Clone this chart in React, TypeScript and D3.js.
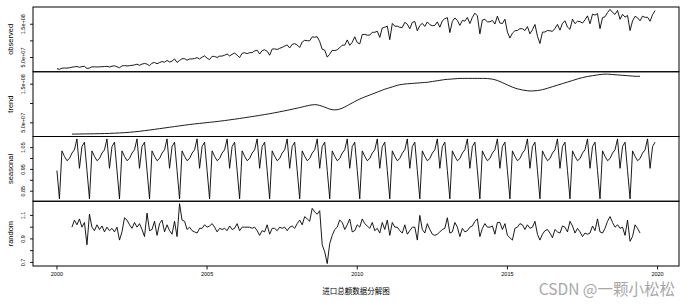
import React from "react";
import * as d3 from "d3";

// ---------- data (values in units of 1e6) ----------
const startYear = 2000;
const unit = 1e6;

const observed: number[] = [
  16.5, 14.5, 18.0, 18.5, 18.2, 19.3, 21.0, 22.2, 23.0, 20.6, 22.8, 23.5,
  17.3, 18.4, 22.2, 21.9, 21.6, 21.9, 22.4, 23.1, 23.6, 21.5, 24.0, 25.1,
  22.3, 19.4, 24.8, 25.7, 24.8, 25.5, 26.6, 27.8, 30.1, 26.7, 30.3, 32.1,
  30.4, 25.5, 33.2, 35.1, 31.3, 34.9, 38.0, 35.9, 41.4, 36.6, 39.3, 45.7,
  35.2, 41.2, 46.5, 46.5, 42.1, 45.6, 45.9, 47.0, 49.9, 45.6, 51.2, 55.0,
  48.1, 43.9, 53.6, 53.2, 50.2, 54.2, 54.4, 56.9, 60.5, 54.7, 59.6, 63.5,
  57.3, 49.9, 62.8, 64.4, 61.7, 64.5, 64.8, 69.9, 72.0, 60.5, 70.9, 73.3,
  68.9, 57.0, 75.5, 76.0, 74.1, 77.7, 80.6, 84.3, 87.9, 78.8, 89.5, 91.6,
  87.8, 80.2, 96.5, 101.8, 100.5, 100.3, 112.2, 111.0, 112.6, 97.8, 75.0, 72.2,
  51.3, 60.0, 71.7, 70.9, 73.2, 79.5, 87.1, 87.1, 102.9, 86.6, 95.9, 112.4,
  94.9, 90.9, 119.2, 119.4, 117.2, 117.4, 125.9, 125.8, 129.0, 110.5, 138.8, 140.9,
  144.4, 103.6, 152.4, 144.3, 144.1, 140.7, 140.3, 155.7, 150.1, 136.6, 155.6, 158.2,
  130.4, 146.1, 152.7, 143.4, 156.8, 148.9, 145.5, 146.6, 157.1, 141.1, 160.2, 166.8,
  169.8, 124.9, 158.5, 168.9, 161.3, 146.7, 161.5, 159.4, 170.4, 152.1, 170.7, 183.2,
  175.2, 121.2, 162.7, 164.6, 157.2, 157.3, 161.5, 150.6, 174.4, 153.6, 152.2, 165.2,
  126.3, 108.4, 123.3, 130.5, 131.3, 136.6, 136.6, 131.1, 143.0, 121.2, 133.4, 149.4,
  114.2, 92.2, 126.1, 126.8, 131.2, 130.3, 128.7, 137.3, 149.6, 132.2, 153.1, 160.4,
  141.4, 134.6, 165.3, 151.7, 159.1, 157.8, 153.5, 163.3, 175.1, 151.5, 180.2, 177.5,
  181.8, 136.8, 169.9, 172.5, 185.0, 194.6, 185.6, 179.5, 191.4, 164.8, 179.9, 171.4,
  176.5, 131.0, 160.2, 173.9, 169.3, 160.3, 174.4, 170.5, 171.2, 159.2, 178.8, 191.1,
];

// trend starts July 2000 (index 6)
const trendOffset = 6;
const trend: number[] = [
  20.8, 20.9, 21.0, 21.1, 21.2, 21.3,
  21.4, 21.5, 21.6, 21.7, 21.8, 21.9, 22.0, 22.2, 22.4, 22.6, 22.9, 23.2,
  23.5, 23.8, 24.1, 24.5, 25.0, 25.5, 26.1, 26.7, 27.4, 28.1, 28.9, 29.7,
  30.5, 31.3, 32.2, 33.1, 34.0, 34.9, 35.8, 36.7, 37.6, 38.5, 39.4, 40.3,
  41.2, 42.1, 43.0, 43.9, 44.8, 45.6, 46.4, 47.1, 47.8, 48.5, 49.2, 49.9,
  50.6, 51.3, 52.0, 52.7, 53.4, 54.2, 55.0, 55.8, 56.7, 57.6, 58.5, 59.4,
  60.3, 61.2, 62.2, 63.2, 64.2, 65.2, 66.2, 67.2, 68.2, 69.2, 70.3, 71.4,
  72.5, 73.6, 74.8, 76.0, 77.2, 78.5, 79.8, 81.1, 82.4, 83.8, 85.2, 86.6,
  88.0, 89.5, 91.0, 92.5, 94.0, 95.5, 96.5, 97.0, 96.5, 95.0, 93.0, 90.5,
  88.0, 85.5, 84.0, 83.5, 84.0, 85.5, 88.0, 91.0, 94.5, 98.0, 101.5, 105.0,
  108.5, 111.5, 114.5, 117.0, 119.5, 122.0, 124.5, 127.0, 129.5, 132.0, 134.5, 137.0,
  139.0, 141.0, 143.0, 145.0, 147.0, 148.5, 149.5, 150.5, 151.0, 151.5, 152.0, 152.5,
  153.0, 153.5, 154.0, 154.5, 155.0, 156.0, 157.0, 158.0, 159.0, 160.0, 161.0, 162.0,
  162.5, 163.0, 163.5, 164.0, 164.5, 165.0, 165.0, 165.0, 165.0, 165.0, 165.0, 165.0,
  165.0, 165.0, 165.0, 165.0, 164.5, 164.0, 163.0, 161.5, 159.5, 157.0, 154.0, 151.0,
  148.0, 145.0, 142.5, 140.0, 138.0, 136.5, 135.0, 134.0, 133.0, 132.5, 132.5, 133.0,
  133.5, 134.5, 136.0, 137.5, 139.5, 141.5, 143.5, 145.5, 147.5, 149.5, 151.5, 153.5,
  155.5, 157.5, 159.5, 161.5, 163.5, 165.5, 167.0, 168.5, 170.0, 171.0, 172.0, 173.0,
  174.0, 175.0, 175.5, 176.0, 176.0, 175.5, 175.0, 174.5, 174.0, 173.5, 173.0, 172.5,
  172.0, 171.5, 171.0, 170.5, 170.5, 170.5,
];

// seasonal factors Jan..Dec (repeat every year)
const seasonalFactors: number[] = [0.945, 0.815, 1.035, 1.01, 0.99, 1.0, 1.025, 1.04, 1.09, 0.955, 1.055, 1.075];

// random starts July 2000
const random: number[] = [
  1.00, 1.06, 1.02, 1.07, 1.00, 1.04,
  0.85, 1.11, 1.00, 0.97, 1.02, 0.98, 1.01, 0.96, 1.00, 0.97, 0.99, 0.96,
  1.00, 0.89, 0.96, 1.08, 1.06, 1.02, 0.99, 1.04, 1.00, 1.03, 0.98, 0.92,
  1.12, 0.97, 0.98, 1.05, 0.93, 1.03, 1.06, 0.96, 1.02, 0.97, 0.94, 1.05,
  0.92, 1.20, 1.06, 1.05, 0.98, 1.00, 0.97, 0.96, 0.95, 0.99, 0.99, 1.02,
  1.00, 1.01, 1.03, 1.00, 0.96, 0.99, 0.98, 0.99, 0.97, 1.01, 0.98, 0.99,
  1.03, 0.97, 1.00, 1.00, 1.00, 1.00, 0.99, 1.00, 0.97, 0.93, 0.97, 0.96,
  1.02, 0.94, 0.99, 0.99, 0.97, 1.00, 0.99, 1.00, 0.97, 1.00, 1.01, 0.99,
  1.03, 1.06, 1.02, 1.09, 1.07, 1.05, 1.16, 1.13, 1.11, 1.14, 0.85, 0.79,
  0.69, 0.86, 0.93, 0.98, 1.00, 1.06, 1.04, 0.98, 1.02, 1.07, 0.96, 0.97,
  1.02, 1.00, 1.07, 1.03, 1.01, 0.99, 1.04, 0.97, 0.99, 0.95, 1.04, 0.98,
  1.06, 0.93, 1.04, 1.00, 1.00, 0.97, 0.95, 1.02, 0.94, 0.97, 1.00, 1.00,
  0.89, 1.10, 0.98, 0.95, 1.03, 0.98, 0.94, 0.93, 0.94, 0.96, 0.98, 0.99,
  1.08, 0.95, 0.96, 1.04, 1.00, 0.92, 0.99, 0.96, 0.97, 1.00, 1.01, 1.05,
  1.07, 0.92, 0.99, 1.03, 1.00, 1.00, 1.01, 0.94, 1.04, 1.04, 0.98, 1.03,
  0.93, 0.91, 0.89, 0.99, 1.00, 1.03, 1.02, 0.98, 1.02, 0.99, 1.00, 1.05,
  0.94, 0.89, 0.94, 0.97, 0.98, 0.95, 0.91, 0.98, 0.96, 0.95, 1.01, 1.00,
  0.96, 1.05, 1.01, 0.95, 0.99, 0.96, 0.92, 0.95, 0.94, 0.95, 1.01, 0.97,
  1.07, 0.96, 0.95, 0.99, 1.05, 1.09, 1.04, 1.00, 1.02, 0.99, 1.00, 0.93,
  1.06, 0.88, 0.92, 1.02, 0.99, 0.95,
];

const panelNames = ["observed", "trend", "seasonal", "random"];
const yearTicks = [2000, 2005, 2010, 2015, 2020];
const obsTicks = [5e7, 1e8, 1.5e8];
const obsLabels = ["5.0e+07", "", "1.5e+08"];
const trendTicks = [5e7, 1e8, 1.5e8];
const trendLabels = ["5.0e+07", "", "1.5e+08"];
const seasTicks = [0.85, 0.9, 0.95, 1.0, 1.05];
const seasLabels = ["0.85", "", "0.95", "", "1.05"];
const randTicks = [0.7, 0.8, 0.9, 1.0, 1.1];
const randLabels = ["0.7", "", "0.9", "", "1.1"];
const xTitle = "进口总额数据分解图";
const watermark = "CSDN @一颗小松松";

// ---------- layout ----------
const W = 693, H = 305;
const left = 33, right = 679, top = 7, bottom = 266;
const panelH = (bottom - top) / 4;

type Pt = [number, number];

function padExtent(vals: number[]): [number, number] {
  const [a, b] = d3.extent(vals) as [number, number];
  const p = (b - a) * 0.04;
  return [a - p, b + p];
}

export default function App() {
  const tOf = (i: number) => startYear + i / 12;
  const obsPts: Pt[] = observed.map((v, i) => [tOf(i), v * unit]);
  const trendPts: Pt[] = trend.map((v, i) => [tOf(i + trendOffset), v * unit]);
  const seasPts: Pt[] = observed.map((_, i) => [tOf(i), seasonalFactors[i % 12]]);
  const randPts: Pt[] = random.map((v, i) => [tOf(i + trendOffset), v]);

  const x = d3.scaleLinear().domain(padExtent(obsPts.map((d) => d[0]))).range([left, right]);

  const panels = [
    { pts: obsPts, ticks: obsTicks, labels: obsLabels },
    { pts: trendPts, ticks: trendTicks, labels: trendLabels },
    { pts: seasPts, ticks: seasTicks, labels: seasLabels },
    { pts: randPts, ticks: randTicks, labels: randLabels },
  ].map((p, k) => {
    const y0 = top + k * panelH;
    const y1 = y0 + panelH;
    const y = d3.scaleLinear().domain(padExtent(p.pts.map((d) => d[1]))).range([y1, y0]);
    const line = d3.line<Pt>().x((d) => x(d[0])).y((d) => y(d[1]));
    return { ...p, y0, y1, y, path: line(p.pts) || "", name: panelNames[k] };
  });

  const font = "'Liberation Sans', Arial, sans-serif";

  return (
    <svg width={W} height={H} style={{ position: "absolute", left: 0, top: 0, background: "#fff" }} fontFamily={font}>
      <rect x={0} y={0} width={W} height={H} fill="#fff" />
      {panels.map((p, k) => (
        <g key={k}>
          <path d={p.path} fill="none" stroke="#000" strokeWidth={0.9} strokeLinejoin="round" />
          <rect x={left} y={p.y0} width={right - left} height={p.y1 - p.y0} fill="none" stroke="#000" strokeWidth={1} />
          {p.ticks.map((t, j) => {
            const yy = p.y(t);
            return (
              <g key={j}>
                <line x1={left} x2={left - 3} y1={yy} y2={yy} stroke="#000" strokeWidth={0.9} />
                {p.labels[j] && (
                  <text
                    transform={`translate(${left - 10.5},${yy}) rotate(-90)`}
                    textAnchor="middle"
                    dominantBaseline="central"
                    fontSize={5.5}
                  >
                    {p.labels[j]}
                  </text>
                )}
              </g>
            );
          })}
          <text
            transform={`translate(${10.5},${(p.y0 + p.y1) / 2}) rotate(-90)`}
            textAnchor="middle"
            dominantBaseline="central"
            fontSize={7.5}
          >
            {p.name}
          </text>
        </g>
      ))}
      {yearTicks.map((t, j) => (
        <g key={j}>
          <line x1={x(t)} x2={x(t)} y1={bottom} y2={bottom + 3.5} stroke="#000" strokeWidth={0.9} />
          <text x={x(t)} y={bottom + 8} textAnchor="middle" dominantBaseline="central" fontSize={5.5}>
            {t}
          </text>
        </g>
      ))}
      <text
        x={(left + right) / 2}
        y={290}
        textAnchor="middle"
        dominantBaseline="central"
        fontSize={7.5}
        fontFamily="'Noto Sans CJK SC', sans-serif"
      >
        {xTitle}
      </text>
      <text
        x={675}
        y={295}
        textAnchor="end"
        fontSize={15.5}
        fill="#a8a8a8"
        fontFamily="'Noto Sans CJK SC', 'Noto Sans', sans-serif"
      >
        {watermark}
      </text>
    </svg>
  );
}
